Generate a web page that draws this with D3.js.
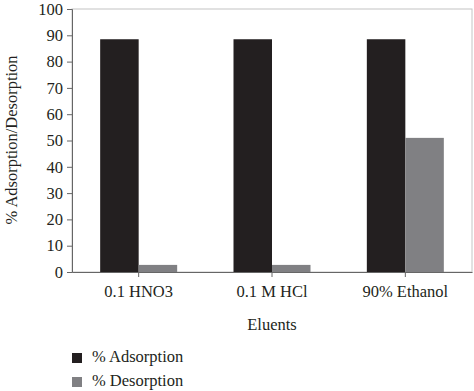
<!DOCTYPE html>
<html><head><meta charset="utf-8">
<script src="https://cdn.jsdelivr.net/npm/d3@7"></script>
<style>body{margin:0;background:#fff}svg{display:block}</style>
</head><body>
<svg id="c" width="474" height="391"></svg>
<script>
const categories = ["0.1 HNO3", "0.1 M HCl", "90% Ethanol"];
const seriesNames = ["% Adsorption", "% Desorption"];
const adsorption = [88.5, 88.5, 88.5];
const desorption = [2.7, 2.7, 51];
const yTicks = [0,10,20,30,40,50,60,70,80,90,100];
const colors = ["#231f20", "#808083"];

const FONT = '"Liberation Serif", "Times New Roman", serif';
const FS = 16.5;
const svg = d3.select("#c");
const m = {l:72, r:472, t:9, b:272};
const x = d3.scaleBand().domain(categories).range([m.l, m.r]);
const y = d3.scaleLinear().domain([0,100]).range([m.b, m.t]);
const bw = 38.5;
const series = [adsorption, desorption];

// frame
svg.append("rect").attr("x", m.l).attr("y", m.t).attr("width", m.r - m.l).attr("height", m.b - m.t)
  .attr("fill", "none").attr("stroke", "#c4c4c4").attr("stroke-width", 1);

series.forEach((vals, si) => {
  svg.selectAll(null).data(categories).enter().append("rect")
    .attr("x", d => x(d) + x.bandwidth()/2 - bw + si*bw)
    .attr("y", (d,i) => y(vals[i]))
    .attr("width", bw)
    .attr("height", (d,i) => y(0) - y(vals[i]))
    .attr("fill", colors[si]);
});

// y axis
const ya = svg.append("g").attr("transform", `translate(${m.l},0)`)
  .call(d3.axisLeft(y).tickValues(yTicks).tickSize(5).tickPadding(4))
  .attr("font-family", FONT).attr("font-size", FS);
ya.selectAll("path,line").attr("stroke", "#666");
ya.selectAll("text").attr("fill", "#231f20");

// x axis
const xa = svg.append("g").attr("transform", `translate(0,${m.b})`)
  .call(d3.axisBottom(x).tickSize(5).tickPadding(8).tickSizeOuter(0))
  .attr("font-family", FONT).attr("font-size", FS);
xa.selectAll("path,line").attr("stroke", "#666");
xa.selectAll("text").attr("fill", "#231f20");

svg.append("text").attr("x", 272).attr("y", 330).attr("text-anchor", "middle")
  .attr("font-family", FONT).attr("font-size", FS).attr("fill", "#231f20").text("Eluents");
svg.append("text").attr("transform", "translate(17,140) rotate(-90)").attr("text-anchor", "middle")
  .attr("font-family", FONT).attr("font-size", FS).attr("fill", "#231f20").text("% Adsorption/Desorption");

// legend
seriesNames.forEach((n, i) => {
  svg.append("rect").attr("x", 72).attr("y", 353 + i*24).attr("width", 10).attr("height", 10).attr("fill", colors[i]);
  svg.append("text").attr("x", 92).attr("y", 362 + i*24)
    .attr("font-family", FONT).attr("font-size", FS).attr("fill", "#231f20").text(n);
});
</script>
</body></html>
